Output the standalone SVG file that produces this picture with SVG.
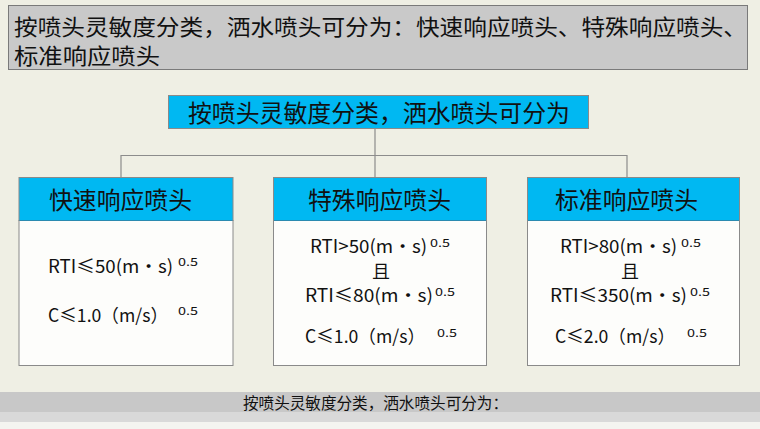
<svg xmlns="http://www.w3.org/2000/svg" width="760" height="429" viewBox="0 0 760 429">
<style>
text{font-family:"Noto Sans CJK SC","Noto Sans",sans-serif;fill:#111}
.hd{fill:#00b8f2;stroke:#8a8a8a;stroke-width:1}
.bd{fill:#fdfdfb;stroke:#8a8a8a;stroke-width:1}
.t24{font-size:24px}
.tt{font-size:22px}
.m{font-size:18px}
.s{font-size:11px}
.c{fill:none;stroke:#8c8c8c;stroke-width:1.2}
</style>
<rect width="760" height="429" fill="#efefe4"/>
<g id="title">
<rect x="8.5" y="5.5" width="739" height="64" fill="#c9c9c9" stroke="#7a7a7a"/>
<text class="tt" x="14" y="35" textLength="733" lengthAdjust="spacingAndGlyphs">按喷头灵敏度分类，洒水喷头可分为：快速响应喷头、特殊响应喷头、</text>
<text class="tt" x="14" y="64" textLength="146" lengthAdjust="spacingAndGlyphs">标准响应喷头</text>
</g>
<g id="connectors">
<path class="c" d="M375 128V155.5M121 177V155.5H627V177M375 155.5V177"/>
</g>
<g id="root">
<rect x="168.5" y="95.5" width="420" height="33" class="hd"/>
<text class="t24" x="188" y="122" textLength="382" lengthAdjust="spacingAndGlyphs">按喷头灵敏度分类，洒水喷头可分为</text>
</g>
<g id="fast">
<rect x="19" y="177.5" width="214" height="43" class="hd"/>
<rect x="19" y="220.5" width="214" height="145" class="bd"/>
<line x1="19.5" y1="220.5" x2="232.5" y2="220.5" stroke="#2a8ab0"/>
<text class="t24" x="49" y="209" textLength="143" lengthAdjust="spacingAndGlyphs">快速响应喷头</text>
<text class="m" x="48" y="273" textLength="125" lengthAdjust="spacingAndGlyphs">RTI≤50(m・s)</text>
<text class="s" x="178" y="266" textLength="20" lengthAdjust="spacingAndGlyphs">0.5</text>
<text class="m" x="48" y="322" textLength="120" lengthAdjust="spacingAndGlyphs">C≤1.0（m/s）</text>
<text class="s" x="178" y="315" textLength="20" lengthAdjust="spacingAndGlyphs">0.5</text>
</g>
<g id="special">
<rect x="273.5" y="177.5" width="213" height="43" class="hd"/>
<rect x="273.5" y="220.5" width="213" height="145" class="bd"/>
<line x1="274" y1="220.5" x2="486" y2="220.5" stroke="#2a8ab0"/>
<text class="t24" x="308" y="209" textLength="143" lengthAdjust="spacingAndGlyphs">特殊响应喷头</text>
<text class="m" x="310" y="253" textLength="117" lengthAdjust="spacingAndGlyphs">RTI&gt;50(m・s)</text>
<text class="s" x="430" y="247" textLength="20" lengthAdjust="spacingAndGlyphs">0.5</text>
<text class="m" x="381" y="278" text-anchor="middle">且</text>
<text class="m" x="305" y="302" textLength="128" lengthAdjust="spacingAndGlyphs">RTI≤80(m・s)</text>
<text class="s" x="435" y="296" textLength="20" lengthAdjust="spacingAndGlyphs">0.5</text>
<text class="m" x="305" y="343" textLength="120" lengthAdjust="spacingAndGlyphs">C≤1.0（m/s）</text>
<text class="s" x="437" y="337" textLength="20" lengthAdjust="spacingAndGlyphs">0.5</text>
</g>
<g id="standard">
<rect x="527.5" y="177.5" width="212" height="43" class="hd"/>
<rect x="527.5" y="220.5" width="212" height="145" class="bd"/>
<line x1="528" y1="220.5" x2="739" y2="220.5" stroke="#2a8ab0"/>
<text class="t24" x="555" y="209" textLength="143" lengthAdjust="spacingAndGlyphs">标准响应喷头</text>
<text class="m" x="560" y="253" textLength="117" lengthAdjust="spacingAndGlyphs">RTI&gt;80(m・s)</text>
<text class="s" x="681" y="247" textLength="20" lengthAdjust="spacingAndGlyphs">0.5</text>
<text class="m" x="630" y="278" text-anchor="middle">且</text>
<text class="m" x="550" y="302" textLength="137" lengthAdjust="spacingAndGlyphs">RTI≤350(m・s)</text>
<text class="s" x="690" y="296" textLength="20" lengthAdjust="spacingAndGlyphs">0.5</text>
<text class="m" x="555" y="343" textLength="120" lengthAdjust="spacingAndGlyphs">C≤2.0（m/s）</text>
<text class="s" x="687" y="337" textLength="20" lengthAdjust="spacingAndGlyphs">0.5</text>
</g>
<g id="caption">
<rect x="0" y="392" width="760" height="20" fill="#c8c8c8"/>
<rect x="0" y="412" width="760" height="10" fill="#d9d9d9"/>
<rect x="0" y="422" width="760" height="7" fill="#f4f4f0"/>
<text x="243" y="409" font-size="15.5" textLength="265" lengthAdjust="spacingAndGlyphs">按喷头灵敏度分类，洒水喷头可分为：</text>
</g>
</svg>
